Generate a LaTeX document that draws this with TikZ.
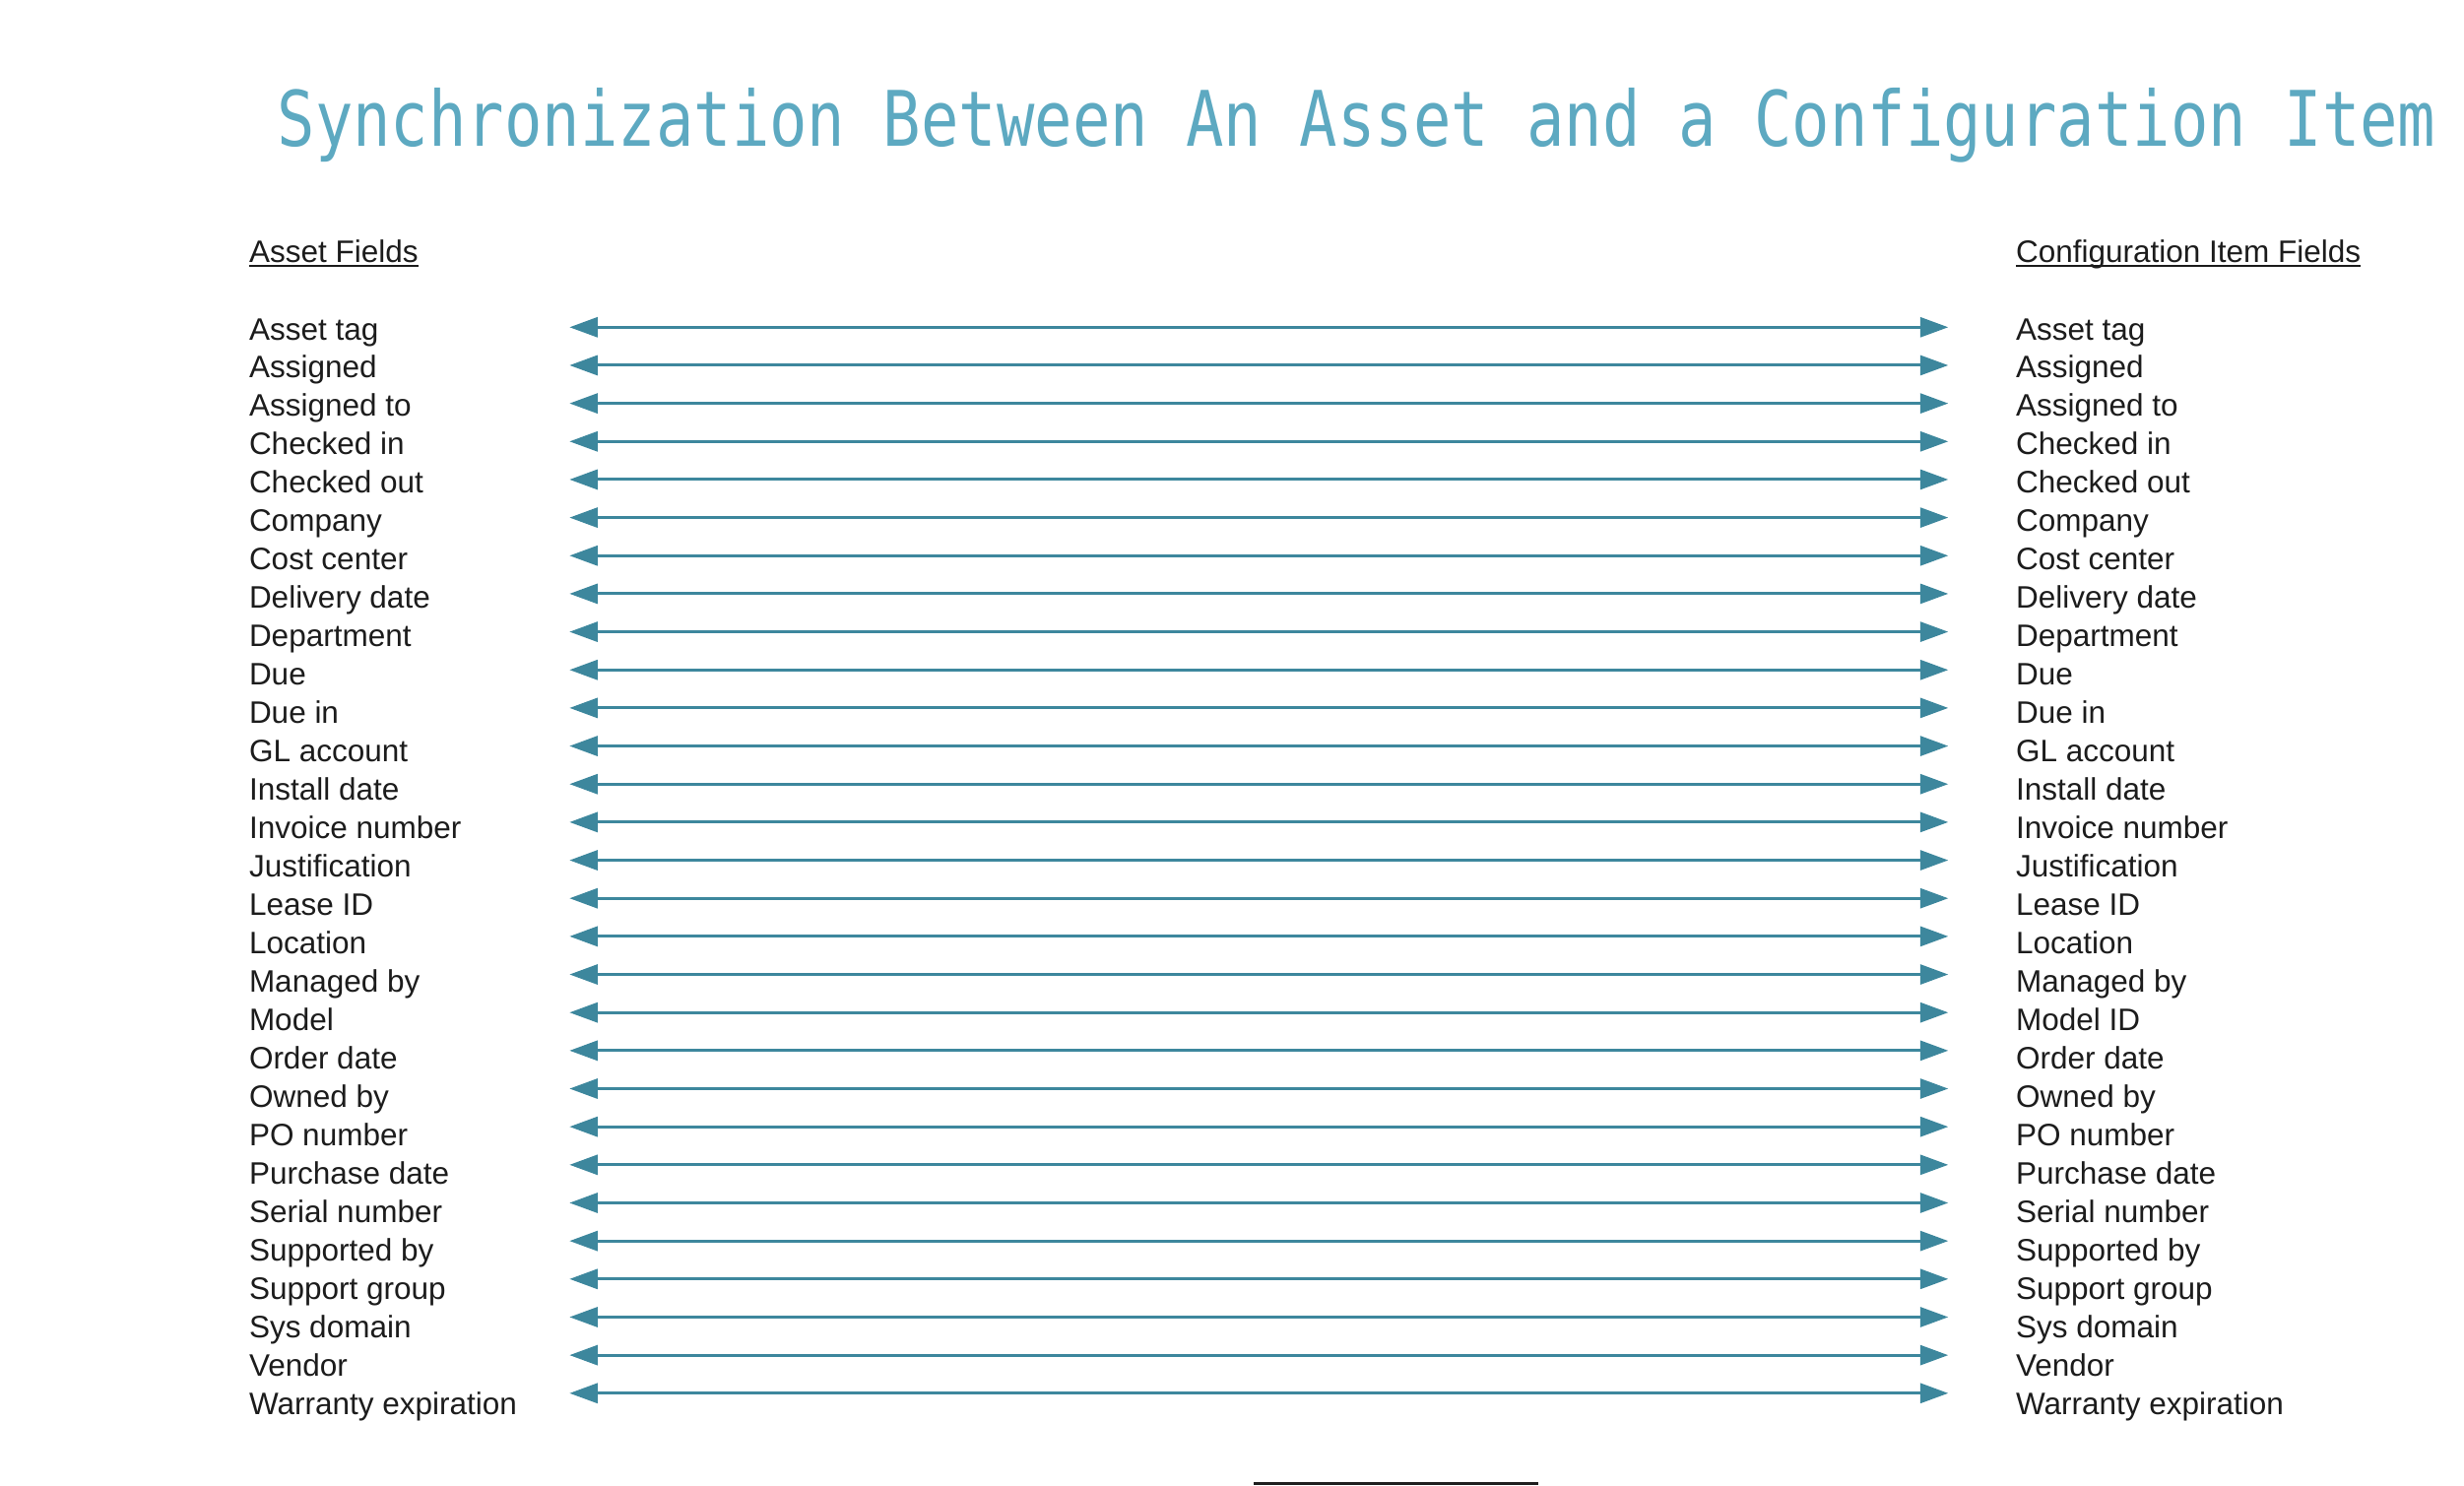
\documentclass[tikz,border=0pt]{standalone}
\usepackage{fontspec}
\setmainfont{Liberation Sans}
\newfontfamily\titlefont[FakeStretch=0.821]{DejaVu Sans Mono}
\usetikzlibrary{arrows.meta}
\definecolor{titleblue}{HTML}{5DA9C1}
\definecolor{arrowteal}{HTML}{3D879D}
\definecolor{txt}{HTML}{1C1C1C}
\begin{document}
\begin{tikzpicture}[x=1pt,y=-1pt,
  field/.style={anchor=base west, inner sep=0pt, outer sep=0pt, text=txt, font=\fontsize{31.5}{36}\selectfont},
  sync/.style={draw=arrowteal, line width=3pt, {Triangle[length=28.5pt,width=20pt]}-{Triangle[length=28.5pt,width=20pt]}},
  uline/.style={draw=txt, line width=2.2pt}
  ]
\path[use as bounding box] (0,0) rectangle (2502,1508);
\node[anchor=base west, inner sep=0pt, text=titleblue, font=\titlefont\fontsize{77.8}{80}\selectfont] (title) at (281.4,148.3) {Synchronization Between An Asset and a Configuration Item};
\node[field] (lh) at (253,266.7) {Asset Fields};
\node[field] (rh) at (2047,266.7) {Configuration Item Fields};
\draw[uline] ([yshift=-3.3pt]lh.base west) -- ([yshift=-3.3pt]lh.base east);
\draw[uline] ([yshift=-3.3pt]rh.base west) -- ([yshift=-3.3pt]rh.base east);
\foreach \l/\r [count=\i from 0] in {Asset tag/Asset tag, Assigned/Assigned, Assigned to/Assigned to, Checked in/Checked in, Checked out/Checked out, Company/Company, Cost center/Cost center, Delivery date/Delivery date, Department/Department, Due/Due, Due in/Due in, GL account/GL account, Install date/Install date, Invoice number/Invoice number, Justification/Justification, Lease ID/Lease ID, Location/Location, Managed by/Managed by, Model/Model ID, Order date/Order date, Owned by/Owned by, PO number/PO number, Purchase date/Purchase date, Serial number/Serial number, Supported by/Supported by, Support group/Support group, Sys domain/Sys domain, Vendor/Vendor, Warranty expiration/Warranty expiration}{
  \node[field] (L\i) at (253,{345+\i*38.99}) {\l};
  \node[field] (R\i) at (2047,{345+\i*38.99}) {\r};
  \coordinate (a\i) at (578.3,{332.3+\i*38.66});
  \coordinate (b\i) at (1978.3,{332.3+\i*38.66});
  \draw[sync] (a\i) -- (b\i);
}
\fill[black!88] (1273,1505) rectangle (1562,1508);
\end{tikzpicture}
\end{document}
